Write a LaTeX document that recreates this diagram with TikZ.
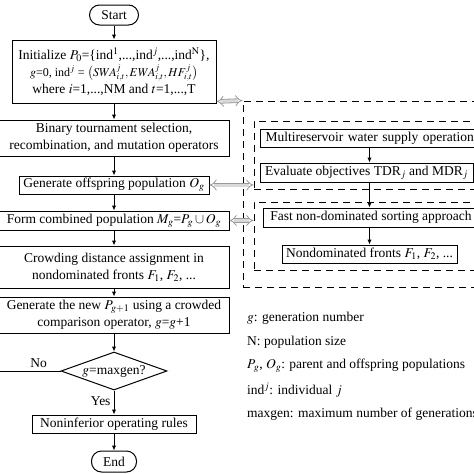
\documentclass[tikz,border=0pt]{standalone}
\usepackage{mathptmx}
\usepackage{fontspec}
\setmainfont{Liberation Serif}
\usetikzlibrary{shapes.geometric,arrows.meta}

\tikzset{
	blk/.style={draw, line width=1.0, align=center, inner sep=1pt},
	term/.style={blk, rounded corners=10pt},
	dbox/.style={draw, line width=1.0, dash pattern=on 7pt off 5pt},
	link/.style={draw=gray!80, double=gray!30, double distance=3pt, line width=0.8, arrows={Implies}-{Implies}},
	legend/.style={anchor=west, inner sep=0pt},
}

\begin{document}
\begin{tikzpicture}[x=1pt,y=-1pt,>={Latex[length=5pt,width=4.5pt]},font=\fontsize{13.5}{17}\selectfont]
	\clip (0,0) rectangle (474,474);
	% main loop
	\node [term, minimum width=49, minimum height=20] (start) at (114,15) {Start};
	\node [blk, minimum width=204, minimum height=63] (init) at (114,71.5) {Initialize $P_0$=\{ind$^1$,...,ind$^j$,...,ind$^{\mathrm{N}}$\},\\ {\fontsize{12}{17}\selectfont $g$=0, ind$^j$ = $\big(SWA^j_{i,t}, EWA^j_{i,t}, HF^j_{i,t}\big)$}\\ where $i$=1,...,NM and $t$=1,...,T};
	\node [blk, minimum width=230, minimum height=36] (binary) at (114,138) {Binary tournament selection,\\ recombination, and mutation operators};
	\node [blk, minimum width=190, minimum height=18] (offspr) at (114,185) {Generate offspring population $O_g$};
	\node [blk, minimum width=230, minimum height=19] (combined) at (114,220.5) {Form combined population $M_g$=$P_g\cup O_g$};
	\node [blk, minimum width=230, minimum height=42] (crowd) at (114,267) {Crowding distance assignment in\\ nondominated fronts $F_1$, $F_2$, ...};
	\node [blk, minimum width=230, minimum height=36] (newpop) at (114,315) {Generate the new $P_{g+1}$ using a crowded\\ comparison operator, $g$=$g$+1};
	\node [blk, diamond, aspect=2.8, inner sep=0pt, minimum width=106, minimum height=38] (check) at (114,371) {$g$=maxgen?};
	\node [blk, minimum width=164, minimum height=18] (noninf) at (114,424) {Noninferior operating rules};
	\node [term, minimum width=45, minimum height=21] (end) at (114,461.5) {End};
	\coordinate (noend) at (-2,371);

	\draw [arrows=->,line width=1.0] (start) -- (init);
	\draw [arrows=->,line width=1.0] (init) -- (binary);
	\draw [arrows=->,line width=1.0] (binary) -- (offspr);
	\draw [arrows=->,line width=1.0] (offspr) -- (combined);
	\draw [arrows=->,line width=1.0] (combined) -- (crowd);
	\draw [arrows=->,line width=1.0] (crowd) -- (newpop);
	\draw [arrows=->,line width=1.0] (newpop) -- (check);
	\draw [arrows=->,line width=1.0] (check) -- node [left, pos=0.45, inner sep=3pt] {Yes} (noninf);
	\draw [arrows=->,line width=1.0] (noninf) -- (end);
	\draw [line width=1.0] (check.west) -- node [above, pos=0.35, inner sep=3pt] {No} (noend);

	% evaluation part
	\node [dbox, minimum width=247, minimum height=186] (outer) at (366.5,194) {};
	\node [dbox, minimum width=236, minimum height=68] (inner1) at (372,155) {};
	\node [dbox, minimum width=236, minimum height=68] (inner2) at (372,236) {};
	\node [blk, anchor=west, text width=220, align=left, inner xsep=5pt, minimum height=18] (multi) at (260,138) {Multireservoir water supply operations};
	\node [blk, minimum width=213, minimum height=19] (eval) at (366.5,172.5) {Evaluate objectives TDR$_j$ and MDR$_j$};
	\node [blk, minimum width=216, minimum height=19] (fast) at (371,217.5) {Fast non-dominated sorting approach};
	\node [blk, minimum width=175, minimum height=18] (fronts) at (369.5,254) {Nondominated fronts $F_1$, $F_2$, ...};

	\draw [arrows=->,line width=1.0] (multi.south -| fronts.north) -- (eval.north -| fronts.north);
	\draw [arrows=->,line width=1.0] (eval.south -| fronts.north) -- (fast.north -| fronts.north);
	\draw [arrows=->,line width=1.0] (fast.south -| fronts.north) -- (fronts.north);

	\draw [link] ([yshift=2pt]init.south east) -- (outer.north west);
	\draw [link] (offspr.east) -- (offspr.east -| inner1.west);
	\draw [link] (combined.east) -- (combined.east -| inner2.west);

	% notation
	\node [legend] (leg1) at (247,318) {$g$: generation number};
	\node [legend] (leg2) at (247,342) {N: population size};
	\node [legend] (leg3) at (247,366) {$P_g$, $O_g$: parent and offspring populations};
	\node [legend] (leg4) at (247,390) {ind$^j$: individual $j$};
	\node [legend] (leg5) at (247,414) {maxgen: maximum number of generations};
\end{tikzpicture}
\end{document}
